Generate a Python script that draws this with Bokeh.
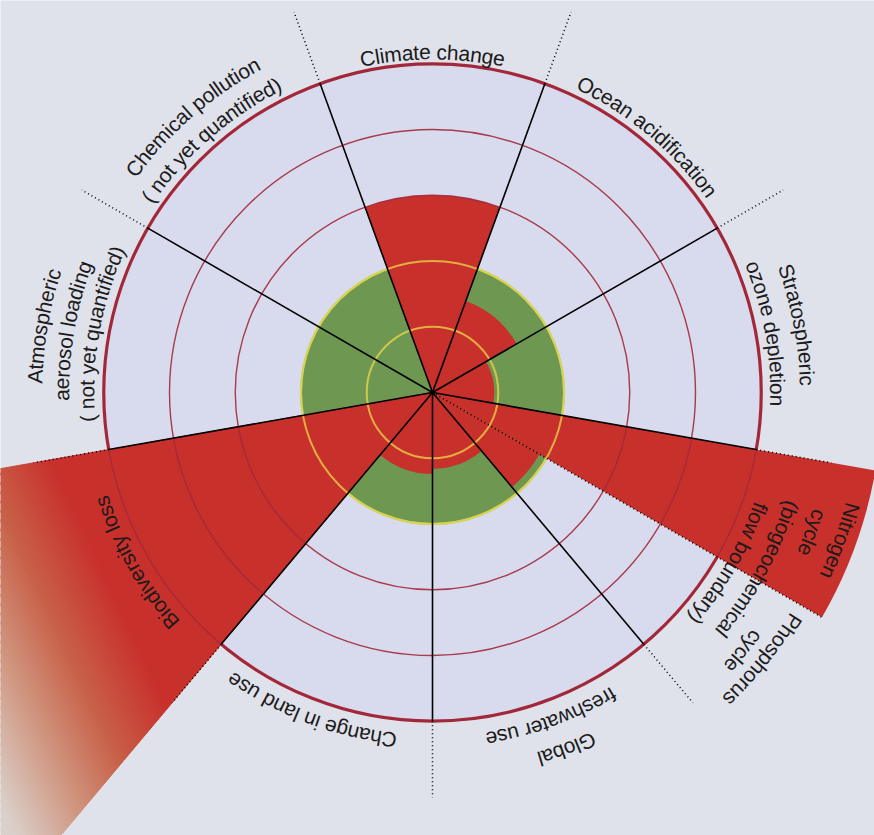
import math

from bokeh.core.properties import value
from bokeh.embed import file_html
from bokeh.models import ColumnDataSource, Range1d
from bokeh.plotting import figure
from bokeh.resources import INLINE

# ---------------------------------------------------------------------------
# Planetary boundaries: each sector spans an angle measured clockwise from the
# top; the level is the present state relative to the boundary
# (1.0 = edge of the safe operating space, None = not yet quantified).
# ---------------------------------------------------------------------------
boundaries = [
    "Climate change",
    "Ocean acidification",
    "Stratospheric ozone depletion",
    "Nitrogen cycle",
    "Phosphorus cycle",
    "Global freshwater use",
    "Change in land use",
    "Biodiversity loss",
    "Atmospheric aerosol loading",
    "Chemical pollution",
]
sector_start = [-20, 20, 60, 100, 120, 140, 180, 220, 260, 300]
sector_end = [20, 60, 100, 120, 140, 180, 220, 260, 300, 340]
current_level = [1.50, 0.74, 0.47, 3.42, 0.94, 0.58, 0.62, 10.0, None, None]

# reference rings (in boundary units)
inner_rings = [0.5, 1.0]
outer_rings = [1.5, 2.0, 2.5]
safe_level = 1.0

# sector dividers (clockwise degrees from the top)
spoke_angles = [20, 60, 100, 140, 180, 220, 260, 300, 340]
shared_divider = 120  # nitrogen / phosphorus split

# label lines: text, centre angle, baseline radius (boundary units)
label_lines = [
    ("Climate change", 0.0, 2.59),
    ("Ocean acidification", 40.0, 2.61),
    ("Stratospheric", 79.5, 2.85),
    ("ozone depletion", 80.0, 2.625),
    ("Nitrogen", 110.0, 3.31),
    ("cycle", 110.3, 3.08),
    ("(biogeochemical", 118.5, 2.86),
    ("flow boundary)", 120.0, 2.64),
    ("Phosphorus", 129.0, 3.25),
    ("cycle", 129.8, 3.08),
    ("Global", 159.4, 2.905),
    ("freshwater use", 160.0, 2.67),
    ("Change in land use", 200.7, 2.66),
    ("Biodiversity loss", 240.2, 2.645),
    ("Atmospheric", 279.7, 3.025),
    ("aerosol loading", 279.7, 2.82),
    ("( not yet quantified)", 280.0, 2.63),
    ("Chemical pollution", 319.0, 2.836),
    ("( not yet quantified)", 318.8, 2.623),
]

# ---------------------------------------------------------------------------
# styling
# ---------------------------------------------------------------------------
UNIT = 131.5            # pixels per boundary unit
W, H = 874, 835
CX, CY = 432, 392       # centre of the diagram on the page
BG = "#dfe2ea"
DISC = "#d8dbed"
SAFE = "#6e9852"
RED = "#c8302c"
RING = "#a3283a"
YELLOW = "#ecd848"
INK = "#1c1a1b"
FONT = "Liberation Sans"
FONT_PX = 21
SPOKE_DOTS_TO = 3.08

# colour ramp for the tail of an off-scale sector (distance in boundary units)
fade_stops = [
    (0.0, (200, 48, 44)),
    (2.85, (200, 48, 44)),
    (3.35, (200, 96, 72)),
    (3.80, (208, 150, 128)),
    (4.30, (218, 208, 202)),
    (5.50, (222, 224, 230)),
]
fade_direction = 245.0  # clockwise degrees from the top

ARIAL = {
    "a": 556, "b": 556, "c": 500, "d": 556, "e": 556, "f": 278, "g": 556,
    "h": 556, "i": 222, "j": 222, "k": 500, "l": 222, "m": 833, "n": 556,
    "o": 556, "p": 556, "q": 556, "r": 333, "s": 500, "t": 278, "u": 556,
    "v": 500, "w": 722, "x": 500, "y": 500, "z": 500,
    "A": 667, "B": 667, "C": 722, "D": 722, "E": 667, "F": 611, "G": 778,
    "H": 722, "I": 278, "J": 500, "K": 667, "L": 556, "M": 833, "N": 722,
    "O": 778, "P": 667, "Q": 778, "R": 722, "S": 667, "T": 611, "U": 722,
    "V": 667, "W": 944, "X": 667, "Y": 667, "Z": 611,
    " ": 278, "(": 333, ")": 333, "-": 333, ".": 278, "/": 278,
}


def polar(r, phi_deg):
    """Point at radius r, angle phi measured clockwise from the top."""
    t = math.radians(phi_deg)
    return r * math.sin(t), r * math.cos(t)


def bokeh_angle(phi_deg):
    return math.radians(90.0 - phi_deg)


p = figure(
    width=W,
    height=H,
    x_range=Range1d(-CX, W - CX),
    y_range=Range1d(CY - H, CY),
    output_backend="svg",
    toolbar_location=None,
    min_border=0,
)
p.axis.visible = False
p.grid.visible = False
p.outline_line_color = None
p.background_fill_color = BG
p.border_fill_color = BG

R_OUT = outer_rings[-1] * UNIT

# base disc and safe operating space
p.circle(x=[0], y=[0], radius=R_OUT, fill_color=DISC, line_color=None)
p.circle(x=[0], y=[0], radius=safe_level * UNIT, fill_color=SAFE,
         line_color="#a8c45c", line_width=2)
p.circle(x=[0], y=[0], radius=R_OUT, fill_color=None, line_color=RING,
         line_width=3.2)

# present state of each quantified boundary; levels that run far off the
# page are drawn separately with a fading tail
wr, ws, we = [], [], []
off_scale = []
for name, a0, a1, lvl in zip(boundaries, sector_start, sector_end, current_level):
    if lvl is None:
        continue
    if lvl * UNIT > W:
        off_scale.append((a0, a1, lvl))
        continue
    wr.append(lvl * UNIT)
    ws.append(bokeh_angle(a1))
    we.append(bokeh_angle(a0))
p.wedge(x=0, y=0, radius=wr, start_angle=ws, end_angle=we,
        fill_color=RED, line_color=None)


def clip_half(poly, ux, uy, c, keep_below):
    out = []
    n = len(poly)
    for i in range(n):
        P, Q = poly[i], poly[(i + 1) % n]
        dp = P[0] * ux + P[1] * uy - c
        dq = Q[0] * ux + Q[1] * uy - c
        if not keep_below:
            dp, dq = -dp, -dq
        if dp <= 0:
            out.append(P)
        if (dp <= 0) != (dq <= 0):
            t = dp / (dp - dq)
            out.append((P[0] + t * (Q[0] - P[0]), P[1] + t * (Q[1] - P[1])))
    return out


def fade_colour(d):
    for (d0, c0), (d1, c1) in zip(fade_stops[:-1], fade_stops[1:]):
        if d0 <= d <= d1:
            t = (d - d0) / (d1 - d0)
            rgb = [round(a + t * (b - a)) for a, b in zip(c0, c1)]
            return "#%02x%02x%02x" % tuple(rgb)
    return "#%02x%02x%02x" % fade_stops[-1][1]


ux, uy = polar(1.0, fade_direction)
bx, by, bc = [], [], []
for a0, a1, lvl in off_scale:
    rv = lvl * UNIT
    wedge_poly = [(0.0, 0.0)] + [polar(rv, a0 + (a1 - a0) * k / 20) for k in range(21)]
    cuts = [0.0] + [fade_stops[1][0] + 0.03 * k for k in range(70)]
    for k in range(len(cuts)):
        lo = cuts[k] * UNIT
        hi = cuts[k + 1] * UNIT if k + 1 < len(cuts) else rv * 2
        band = clip_half(wedge_poly, ux, uy, hi, True)
        if k > 0:
            band = clip_half(band, ux, uy, lo, False)
        if len(band) < 3:
            continue
        bx.append([q[0] for q in band])
        by.append([q[1] for q in band])
        bc.append(fade_colour(cuts[k] + 0.015 if k > 0 else 0.0))
p.patches(xs=bx, ys=by, fill_color=bc, line_color=bc, line_width=1)

# reference rings
for lvl in outer_rings:
    p.circle(x=[0], y=[0], radius=lvl * UNIT, fill_color=None,
             line_color=RING, line_width=1.4, line_alpha=0.9)
for lvl in inner_rings:
    p.circle(x=[0], y=[0], radius=lvl * UNIT, fill_color=None,
             line_color=YELLOW, line_width=2, line_alpha=0.75)

# sector dividers: solid inside the chart, dotted beyond it
sx, sy, dx, dy = [], [], [], []
for a in spoke_angles:
    x1, y1 = polar(R_OUT, a)
    x2, y2 = polar(SPOKE_DOTS_TO * UNIT, a)
    sx.append([0, x1]); sy.append([0, y1])
    dx.append([x1, x2]); dy.append([y1, y2])
n_idx = boundaries.index("Nitrogen cycle")
xe, ye = polar(current_level[n_idx] * UNIT, shared_divider)
dx.append([0, xe]); dy.append([0, ye])
p.multi_line(xs=sx, ys=sy, line_color="black", line_width=1.6)
p.multi_line(xs=dx, ys=dy, line_color="black", line_width=1.5,
             line_dash="1 3")

# curved labels: one glyph per character, set along the arc
cx, cy, ct, ca = [], [], [], []
for text, phi_c, rb in label_lines:
    r = rb * UNIT
    widths = [ARIAL.get(ch, 556) * FONT_PX / 1000.0 for ch in text]
    total = sum(widths)
    pos = -total / 2.0
    for ch, w in zip(text, widths):
        phi = phi_c + math.degrees((pos + w / 2.0) / r)
        pos += w
        if ch == " ":
            continue
        x, y = polar(r, phi)
        cx.append(x); cy.append(y); ct.append(ch)
        ca.append(-math.radians(phi))

src = ColumnDataSource(dict(x=cx, y=cy, t=ct, a=ca))
p.text(x="x", y="y", text="t", angle="a", source=src,
       text_font=value(FONT), text_font_size="%dpx" % FONT_PX,
       text_color=INK, text_align="center", text_baseline="alphabetic")

open("out.html", "w").write(file_html(p, INLINE))
